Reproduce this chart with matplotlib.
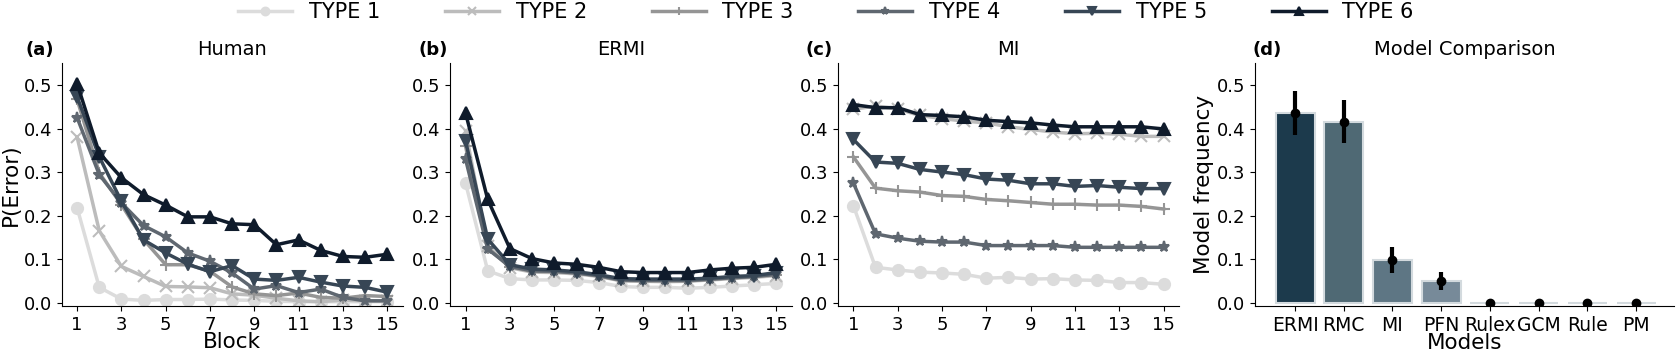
import numpy as np
import matplotlib
matplotlib.use("Agg")
import matplotlib.pyplot as plt

# datos
blocks = np.arange(1, 16)
type_names = ["TYPE 1", "TYPE 2", "TYPE 3", "TYPE 4", "TYPE 5", "TYPE 6"]
type_colors = ["#dcdcdc", "#bcbcbc", "#959595", "#5f6770", "#374655", "#0f1b2b"]
type_markers = ["o", "x", "+", "*", "v", "^"]

human = [
    [0.218, 0.035, 0.008, 0.005, 0.007, 0.007, 0.008, 0.006, 0.005, 0.003, 0.002, 0.002, 0.002, 0.002, 0.002],
    [0.380, 0.165, 0.083, 0.060, 0.037, 0.036, 0.034, 0.020, 0.017, 0.010, 0.004, 0.002, 0.006, 0.004, 0.004],
    [0.467, 0.298, 0.225, 0.145, 0.087, 0.087, 0.072, 0.036, 0.020, 0.016, 0.022, 0.012, 0.010, 0.016, 0.014],
    [0.425, 0.294, 0.229, 0.177, 0.151, 0.114, 0.095, 0.068, 0.031, 0.039, 0.023, 0.031, 0.012, 0.004, 0.004],
    [0.473, 0.335, 0.233, 0.144, 0.114, 0.088, 0.071, 0.085, 0.054, 0.051, 0.058, 0.047, 0.038, 0.035, 0.024],
    [0.503, 0.344, 0.287, 0.248, 0.224, 0.197, 0.197, 0.181, 0.179, 0.133, 0.144, 0.120, 0.106, 0.104, 0.111],
]
ermi = [
    [0.275, 0.073, 0.055, 0.052, 0.052, 0.051, 0.046, 0.037, 0.035, 0.035, 0.033, 0.035, 0.038, 0.041, 0.044],
    [0.395, 0.130, 0.080, 0.070, 0.069, 0.066, 0.060, 0.050, 0.049, 0.048, 0.049, 0.052, 0.055, 0.058, 0.062],
    [0.360, 0.125, 0.082, 0.072, 0.071, 0.068, 0.061, 0.051, 0.050, 0.050, 0.050, 0.053, 0.057, 0.060, 0.064],
    [0.330, 0.123, 0.083, 0.073, 0.072, 0.068, 0.062, 0.052, 0.051, 0.051, 0.051, 0.054, 0.057, 0.060, 0.065],
    [0.372, 0.146, 0.087, 0.077, 0.075, 0.071, 0.064, 0.055, 0.054, 0.054, 0.054, 0.056, 0.060, 0.062, 0.069],
    [0.436, 0.237, 0.124, 0.101, 0.091, 0.088, 0.081, 0.071, 0.069, 0.069, 0.069, 0.075, 0.079, 0.081, 0.088],
]
mi = [
    [0.223, 0.081, 0.075, 0.070, 0.068, 0.065, 0.056, 0.058, 0.054, 0.055, 0.052, 0.051, 0.046, 0.046, 0.042],
    [0.444, 0.452, 0.445, 0.430, 0.423, 0.417, 0.413, 0.404, 0.398, 0.392, 0.388, 0.389, 0.387, 0.382, 0.382],
    [0.335, 0.263, 0.257, 0.254, 0.246, 0.244, 0.237, 0.234, 0.230, 0.226, 0.226, 0.224, 0.224, 0.221, 0.215],
    [0.275, 0.158, 0.148, 0.141, 0.139, 0.139, 0.131, 0.131, 0.131, 0.131, 0.127, 0.127, 0.127, 0.127, 0.127],
    [0.375, 0.323, 0.320, 0.306, 0.300, 0.294, 0.284, 0.281, 0.273, 0.273, 0.267, 0.269, 0.265, 0.262, 0.262],
    [0.455, 0.448, 0.448, 0.432, 0.430, 0.427, 0.419, 0.416, 0.413, 0.408, 0.404, 0.404, 0.404, 0.404, 0.399],
]

models = ["ERMI", "RMC", "MI", "PFN", "Rulex", "GCM", "Rule", "PM"]
model_freq = [0.436, 0.415, 0.097, 0.050, 0.0, 0.0, 0.0, 0.0]
freq_low = [0.386, 0.366, 0.068, 0.029, 0.0, 0.0, 0.0, 0.0]
freq_high = [0.486, 0.465, 0.127, 0.071, 0.0, 0.0, 0.0, 0.0]
bar_colors = ["#1c3a4c", "#4f6974", "#5e7684", "#778a99", "#7f909a", "#97a6ae", "#bcc7cc", "#9aa9b1"]

fs = 13
lfs = 15.5

fig = plt.figure(figsize=(16.79, 3.53), dpi=100)
ax_a = fig.add_axes([0.0367, 0.133, 0.2031, 0.689])
ax_b = fig.add_axes([0.2680, 0.133, 0.2037, 0.689])
ax_c = fig.add_axes([0.4990, 0.133, 0.2033, 0.689])
ax_d = fig.add_axes([0.7475, 0.133, 0.2496, 0.689])

for ax, data, title in [(ax_a, human, "Human"), (ax_b, ermi, "ERMI"), (ax_c, mi, "MI")]:
    for i in range(6):
        ax.plot(blocks, data[i], color=type_colors[i], marker=type_markers[i],
                lw=2.5, ms=8, mew=1.5, label=type_names[i])
    ax.set_xticks(np.arange(1, 16, 2))
    ax.set_yticks([0.0, 0.1, 0.2, 0.3, 0.4, 0.5])
    ax.set_ylim(-0.008, 0.551)
    ax.set_title(title, fontsize=14)
    ax.tick_params(labelsize=fs)
    ax.spines["top"].set_visible(False)
    ax.spines["right"].set_visible(False)

ax_a.set_ylabel("P(Error)", fontsize=lfs, labelpad=2)
ax_a.set_xlabel("Block", fontsize=lfs, labelpad=-1)

# comparacion de modelos
xpos = np.arange(len(models))
ax_d.bar(xpos, model_freq, width=0.8, color=bar_colors, edgecolor="#d3dade", linewidth=1.5)
for x, m, lo, hi in zip(xpos, model_freq, freq_low, freq_high):
    ax_d.plot([x, x], [lo, hi], color="black", lw=3, solid_capstyle="butt")
    ax_d.plot(x, m, "o", color="black", ms=6)
ax_d.set_xticks(xpos)
ax_d.set_xticklabels(models, fontsize=13.5)
ax_d.set_xlim(-0.82, 7.78)
ax_d.set_yticks([0.0, 0.1, 0.2, 0.3, 0.4, 0.5])
ax_d.set_ylim(-0.008, 0.551)
ax_d.set_title("Model Comparison", fontsize=14)
ax_d.set_ylabel("Model frequency", fontsize=lfs, labelpad=2)
ax_d.set_xlabel("Models", fontsize=lfs, labelpad=-1)
ax_d.tick_params(axis="y", labelsize=fs)
ax_d.spines["top"].set_visible(False)
ax_d.spines["right"].set_visible(False)

# etiquetas de panel
for x, lab in [(0.015, "(a)"), (0.249, "(b)"), (0.480, "(c)"), (0.746, "(d)")]:
    fig.text(x, 0.845, lab, fontsize=fs, fontweight="bold")

handles, labels = ax_a.get_legend_handles_labels()
fig.legend(handles, labels, loc="upper center", bbox_to_anchor=(0.492, 1.0), ncol=6,
           frameon=False, fontsize=15, handlelength=2.6, columnspacing=3.1,
           markerscale=0.7, borderaxespad=0, borderpad=0.1)

fig.savefig("out.png", dpi=100)
